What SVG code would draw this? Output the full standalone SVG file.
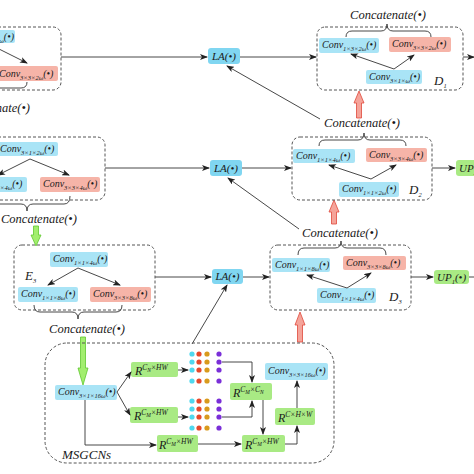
<svg xmlns="http://www.w3.org/2000/svg" width="474" height="474" viewBox="0 0 474 474">
<style>
text{font-family:"Liberation Serif","DejaVu Serif",serif;font-style:italic;fill:#1a1a1a}
.t{font-size:10px}
.cc{font-size:12.5px}
.las{font-size:11px}
.sub{font-size:6.5px}
.big{font-size:13px}
.rr{font-size:12px}
.lab{font-size:13px}
.sup{font-size:7.5px}
.ss{font-size:5.5px}
.dash{fill:none;stroke:#555;stroke-width:1;stroke-dasharray:3,2}
.blue{fill:#a9e4f6}
.la{fill:#80d6f1}
.red{fill:#f6b4a8}
.green{fill:#a9ea84}
.ln{fill:none;stroke:#333;stroke-width:0.9}
.ar{fill:none;stroke:#333;stroke-width:0.9;marker-end:url(#ah)}
.brace{fill:none;stroke:#333;stroke-width:0.9}
.pink{fill:#f5a49a;stroke:#e0473a;stroke-width:0.8}
.garrow{fill:#a2ee6e;stroke:#5fc82e;stroke-width:0.8}
</style>
<defs>
<marker id="ah" markerWidth="8" markerHeight="6" refX="7" refY="3" orient="auto" markerUnits="userSpaceOnUse">
<path d="M0,0 L8,3 L0,6 L2,3 z" fill="#222"/>
</marker>
</defs>

<g id="connectors">
<path class="ar" d="M61,57 L207,57"/>
<path class="ar" d="M240,57 L316,57"/>
<path class="ar" d="M463,57 L474,57"/>
<path class="ar" d="M320,119 L227,66"/>
<path class="ar" d="M105,168 L209,168"/>
<path class="ar" d="M242,168 L291,168"/>
<path class="ar" d="M432,168 L455,168"/>
<path class="ar" d="M299,229 L228,178"/>
<path class="ar" d="M155,277 L211,277"/>
<path class="ar" d="M243,277 L269,277"/>
<path class="ar" d="M411,277 L433,277"/>
<path class="ln" d="M469,277 L474,277"/>
<path class="ar" d="M192,344 L227,285"/>
<path class="pink" d="M359,91 L364,103 L361.5,103 L361.5,118 L356.5,118 L356.5,103 L354,103 Z"/>
<path class="pink" d="M334,200 L339,212 L336.5,212 L336.5,224 L331.5,224 L331.5,212 L329,212 Z"/>
<path class="pink" d="M300,312 L305,325 L302.5,325 L302.5,342 L297.5,342 L297.5,325 L295,325 Z"/>
<path class="garrow" d="M36,246 L31,235 L33.5,235 L33.5,226 L38.5,226 L38.5,235 L41,235 Z"/>
<path class="garrow" d="M83,385 L78,368 L80.5,368 L80.5,337 L85.5,337 L85.5,368 L88,368 Z"/>
</g>

<g id="E1">
<rect class="dash" x="-10" y="27" width="71" height="63" rx="8"/>
<rect class="blue" x="-30" y="30" width="45" height="13" rx="2"/>
<text class="t" x="14" y="40" text-anchor="end">Conv<tspan class="sub" dy="3">3×1×ω</tspan><tspan dy="-3">(•)</tspan></text>
<rect class="red" x="-5" y="66" width="63" height="15" rx="2"/>
<text class="t" x="-1" y="77">Conv<tspan class="sub" dy="3">3×3×2ω</tspan><tspan dy="-3">(•)</tspan></text>
<path class="ar" d="M-5,47 L27,63"/>
<path class="brace" d="M-40,82 Q-40,88 -34,88 L-13,88 Q-7,88 -7,94 Q-7,88 -1,88 L21,88 Q27,88 27,82"/>
<text class="cc" x="30" y="112" text-anchor="end">Concatenate(•)</text>
</g>

<g id="LA1">
<rect class="la" x="208" y="48" width="32" height="16" rx="3"/>
<text class="las" x="224" y="60" text-anchor="middle">LA(•)</text>
</g>

<g id="D1">
<rect class="dash" x="317" y="27" width="146" height="63" rx="8"/>
<rect class="blue" x="319" y="38" width="60" height="15" rx="2"/>
<text class="t" x="322" y="48">Conv<tspan class="sub" dy="3">1×3×2ω</tspan><tspan dy="-3">(•)</tspan></text>
<rect class="red" x="389" y="37" width="62" height="15" rx="2"/>
<text class="t" x="392" y="47">Conv<tspan class="sub" dy="3">3×3×2ω</tspan><tspan dy="-3">(•)</tspan></text>
<rect class="blue" x="366" y="70" width="56" height="14" rx="2"/>
<text class="t" x="369" y="80">Conv<tspan class="sub" dy="3">3×1×ω</tspan><tspan dy="-3">(•)</tspan></text>
<text class="big" x="434" y="85">D<tspan class="sub" dy="3">1</tspan></text>
<path class="ar" d="M394,69 L351,54"/>
<path class="ar" d="M394,69 L414,55"/>
<path class="brace" d="M346,37 Q346,31 352,31 L381,31 Q387,31 387,24 Q387,31 393,31 L425,31 Q431,31 431,37"/>
<text class="cc" x="388" y="19" text-anchor="middle">Concatenate(•)</text>
</g>

<g id="E2">
<rect class="dash" x="-10" y="137" width="115" height="63" rx="8"/>
<rect class="blue" x="-5" y="142" width="63" height="14" rx="2"/>
<text class="t" x="0" y="152">Conv<tspan class="sub" dy="3">3×1×2ω</tspan><tspan dy="-3">(•)</tspan></text>
<rect class="blue" x="-35" y="177" width="62" height="15" rx="2"/>
<text class="t" x="-32" y="187">Conv<tspan class="sub" dy="3">1×1×4ω</tspan><tspan dy="-3">(•)</tspan></text>
<rect class="red" x="40" y="177" width="60" height="15" rx="2"/>
<text class="t" x="43" y="187">Conv<tspan class="sub" dy="3">3×3×4ω</tspan><tspan dy="-3">(•)</tspan></text>
<path class="ar" d="M30,159 L-2,175"/>
<path class="ar" d="M30,159 L69,175"/>
<path class="brace" d="M-16,196 Q-16,204 -10,204 L21,204 Q27,204 27,211 Q27,204 33,204 L64,204 Q70,204 70,196"/>
<text class="cc" x="1" y="223">Concatenate(•)</text>
</g>

<g id="LA2">
<rect class="la" x="210" y="160" width="32" height="16" rx="3"/>
<text class="las" x="226" y="172" text-anchor="middle">LA(•)</text>
</g>

<g id="D2">
<rect class="dash" x="292" y="137" width="140" height="63" rx="8"/>
<rect class="blue" x="293" y="149" width="62" height="14" rx="2"/>
<text class="t" x="296" y="159">Conv<tspan class="sub" dy="3">1×1×4ω</tspan><tspan dy="-3">(•)</tspan></text>
<rect class="red" x="366" y="148" width="61" height="14" rx="2"/>
<text class="t" x="369" y="158">Conv<tspan class="sub" dy="3">3×3×4ω</tspan><tspan dy="-3">(•)</tspan></text>
<rect class="blue" x="339" y="182" width="60" height="15" rx="2"/>
<text class="t" x="342" y="192">Conv<tspan class="sub" dy="3">1×1×2ω</tspan><tspan dy="-3">(•)</tspan></text>
<text class="big" x="409" y="194">D<tspan class="sub" dy="3">2</tspan></text>
<path class="ar" d="M371,179 L329,165"/>
<path class="ar" d="M371,179 L396,165"/>
<path class="brace" d="M319,146 Q319,140 325,140 L358,140 Q364,140 364,133 Q364,140 370,140 L400,140 Q406,140 406,146"/>
<text class="cc" x="362" y="127" text-anchor="middle">Concatenate(•)</text>
</g>

<g id="UP2">
<rect class="green" x="456" y="160" width="25" height="16" rx="3"/>
<text class="las" x="459" y="172">UP<tspan class="sub" dy="3">2</tspan><tspan dy="-3">(•)</tspan></text>
</g>

<g id="E3">
<rect class="dash" x="14" y="245" width="141" height="65" rx="8"/>
<rect class="blue" x="50" y="252" width="58" height="15" rx="2"/>
<text class="t" x="53" y="262">Conv<tspan class="sub" dy="3">1×1×4ω</tspan><tspan dy="-3">(•)</tspan></text>
<text class="big" x="25" y="280">E<tspan class="sub" dy="3">3</tspan></text>
<rect class="blue" x="18" y="287" width="60" height="15" rx="2"/>
<text class="t" x="21" y="297">Conv<tspan class="sub" dy="3">1×1×8ω</tspan><tspan dy="-3">(•)</tspan></text>
<rect class="red" x="90" y="287" width="61" height="15" rx="2"/>
<text class="t" x="93" y="297">Conv<tspan class="sub" dy="3">3×3×8ω</tspan><tspan dy="-3">(•)</tspan></text>
<path class="ar" d="M78,268 L48,285"/>
<path class="ar" d="M78,268 L120,285"/>
<path class="brace" d="M34,305 Q34,312 40,312 L72,312 Q78,312 78,319 Q78,312 84,312 L116,312 Q122,312 122,305"/>
<text class="cc" x="87" y="333" text-anchor="middle">Concatenate(•)</text>
</g>

<g id="LA3">
<rect class="la" x="212" y="269" width="31" height="15" rx="3"/>
<text class="las" x="227.5" y="280" text-anchor="middle">LA(•)</text>
</g>

<g id="D3">
<rect class="dash" x="270" y="245" width="141" height="65" rx="8"/>
<rect class="blue" x="272" y="258" width="58" height="14" rx="2"/>
<text class="t" x="275" y="268">Conv<tspan class="sub" dy="3">1×1×8ω</tspan><tspan dy="-3">(•)</tspan></text>
<rect class="red" x="343" y="256" width="63" height="14" rx="2"/>
<text class="t" x="346" y="266">Conv<tspan class="sub" dy="3">3×3×8ω</tspan><tspan dy="-3">(•)</tspan></text>
<rect class="blue" x="317" y="288" width="59" height="15" rx="2"/>
<text class="t" x="320" y="298">Conv<tspan class="sub" dy="3">1×1×4ω</tspan><tspan dy="-3">(•)</tspan></text>
<text class="big" x="389" y="301">D<tspan class="sub" dy="3">3</tspan></text>
<path class="ar" d="M347,288 L307,275"/>
<path class="ar" d="M347,288 L371,273"/>
<path class="brace" d="M298,255 Q298,248 304,248 L335,248 Q341,248 341,241 Q341,248 347,248 L380,248 Q386,248 386,255"/>
<text class="cc" x="340" y="237" text-anchor="middle">Concatenate(•)</text>
</g>

<g id="UP1">
<rect class="green" x="434" y="270" width="35" height="14" rx="3"/>
<text class="las" x="437" y="281">UP<tspan class="sub" dy="3">1</tspan><tspan dy="-3">(•)</tspan></text>
</g>

<g id="MSGCNs">
<rect class="dash" x="45" y="343" width="289" height="120" rx="22"/>
<text class="lab" x="62" y="459">MSGCNs</text>
<g id="convIn">
<rect class="blue" x="55" y="385" width="62" height="15" rx="2"/>
<text class="t" x="58" y="395">Conv<tspan class="sub" dy="3">3×1×16ω</tspan><tspan dy="-3">(•)</tspan></text>
</g>
<g id="R1">
<rect class="green" x="131" y="362" width="47" height="15" rx="2"/>
<text class="rr" x="135" y="375">R<tspan class="sup" dy="-5">C</tspan><tspan class="ss" dy="2">N</tspan><tspan class="sup" dy="-2">×HW</tspan></text>
</g>
<g id="R2">
<rect class="green" x="130" y="407" width="48" height="16" rx="2"/>
<text class="rr" x="134" y="420">R<tspan class="sup" dy="-5">C</tspan><tspan class="ss" dy="2">M</tspan><tspan class="sup" dy="-2">×HW</tspan></text>
</g>
<g id="R3">
<rect class="green" x="157" y="435" width="41" height="17" rx="2"/>
<text class="rr" x="159" y="449">R<tspan class="sup" dy="-5">C</tspan><tspan class="ss" dy="2">M</tspan><tspan class="sup" dy="-2">×HW</tspan></text>
</g>
<g id="R4">
<rect class="green" x="230" y="383" width="42" height="17" rx="2"/>
<text class="rr" x="233" y="397">R<tspan class="sup" dy="-5">C</tspan><tspan class="ss" dy="2">M</tspan><tspan class="sup" dy="-2">×C</tspan><tspan class="ss" dy="2">N</tspan></text>
</g>
<g id="R5">
<rect class="green" x="242" y="435" width="43" height="17" rx="2"/>
<text class="rr" x="245" y="449">R<tspan class="sup" dy="-5">C</tspan><tspan class="ss" dy="2">M</tspan><tspan class="sup" dy="-2">×HW</tspan></text>
</g>
<g id="R6">
<rect class="green" x="275" y="408" width="40" height="17" rx="2"/>
<text class="rr" x="278" y="422">R<tspan class="sup" dy="-5">C×H×W</tspan></text>
</g>
<g id="convOut">
<rect class="blue" x="265" y="363" width="63" height="17" rx="2"/>
<text class="t" x="268" y="374">Conv<tspan class="sub" dy="3">3×3×16ω</tspan><tspan dy="-3">(•)</tspan></text>
</g>
<g id="dots">
<g fill="#4fd8ee"><circle cx="192" cy="354" r="2.6"/><circle cx="192" cy="362" r="2.6"/><circle cx="192" cy="370" r="2.6"/><circle cx="192" cy="381" r="2.6"/><circle cx="192" cy="401" r="2.6"/><circle cx="192" cy="409" r="2.6"/><circle cx="192" cy="417" r="2.6"/><circle cx="192" cy="428" r="2.6"/></g>
<g fill="#e5482b"><circle cx="199" cy="354" r="2.6"/><circle cx="199" cy="362" r="2.6"/><circle cx="199" cy="370" r="2.6"/><circle cx="199" cy="381" r="2.6"/><circle cx="199" cy="401" r="2.6"/><circle cx="199" cy="409" r="2.6"/><circle cx="199" cy="417" r="2.6"/><circle cx="199" cy="428" r="2.6"/></g>
<g fill="#d99a1c"><circle cx="207" cy="354" r="2.6"/><circle cx="207" cy="362" r="2.6"/><circle cx="207" cy="370" r="2.6"/><circle cx="207" cy="381" r="2.6"/><circle cx="207" cy="401" r="2.6"/><circle cx="207" cy="409" r="2.6"/><circle cx="207" cy="417" r="2.6"/><circle cx="207" cy="428" r="2.6"/></g>
<g fill="#7a2fd8"><circle cx="219" cy="354" r="2.6"/><circle cx="219" cy="362" r="2.6"/><circle cx="219" cy="370" r="2.6"/><circle cx="219" cy="381" r="2.6"/><circle cx="219" cy="401" r="2.6"/><circle cx="219" cy="409" r="2.6"/><circle cx="219" cy="417" r="2.6"/><circle cx="219" cy="428" r="2.6"/></g>
</g>
<g id="msg-connectors">
<path class="ar" d="M117,392 L131,372"/>
<path class="ar" d="M117,392 L130,415"/>
<path class="ar" d="M85,400 L85,445 L156,445"/>
<path class="ar" d="M178,370 L188,370"/>
<path class="ar" d="M178,417 L188,417"/>
<path class="ar" d="M222,362 L252,362 L252,382"/>
<path class="ar" d="M222,417 L252,417 L252,401"/>
<path class="ar" d="M263,400 L263,434"/>
<path class="ar" d="M198,444 L241,444"/>
<path class="ar" d="M285,444 L297,444 L297,426"/>
<path class="ar" d="M297,408 L297,381"/>
</g>
</g>
</svg>
